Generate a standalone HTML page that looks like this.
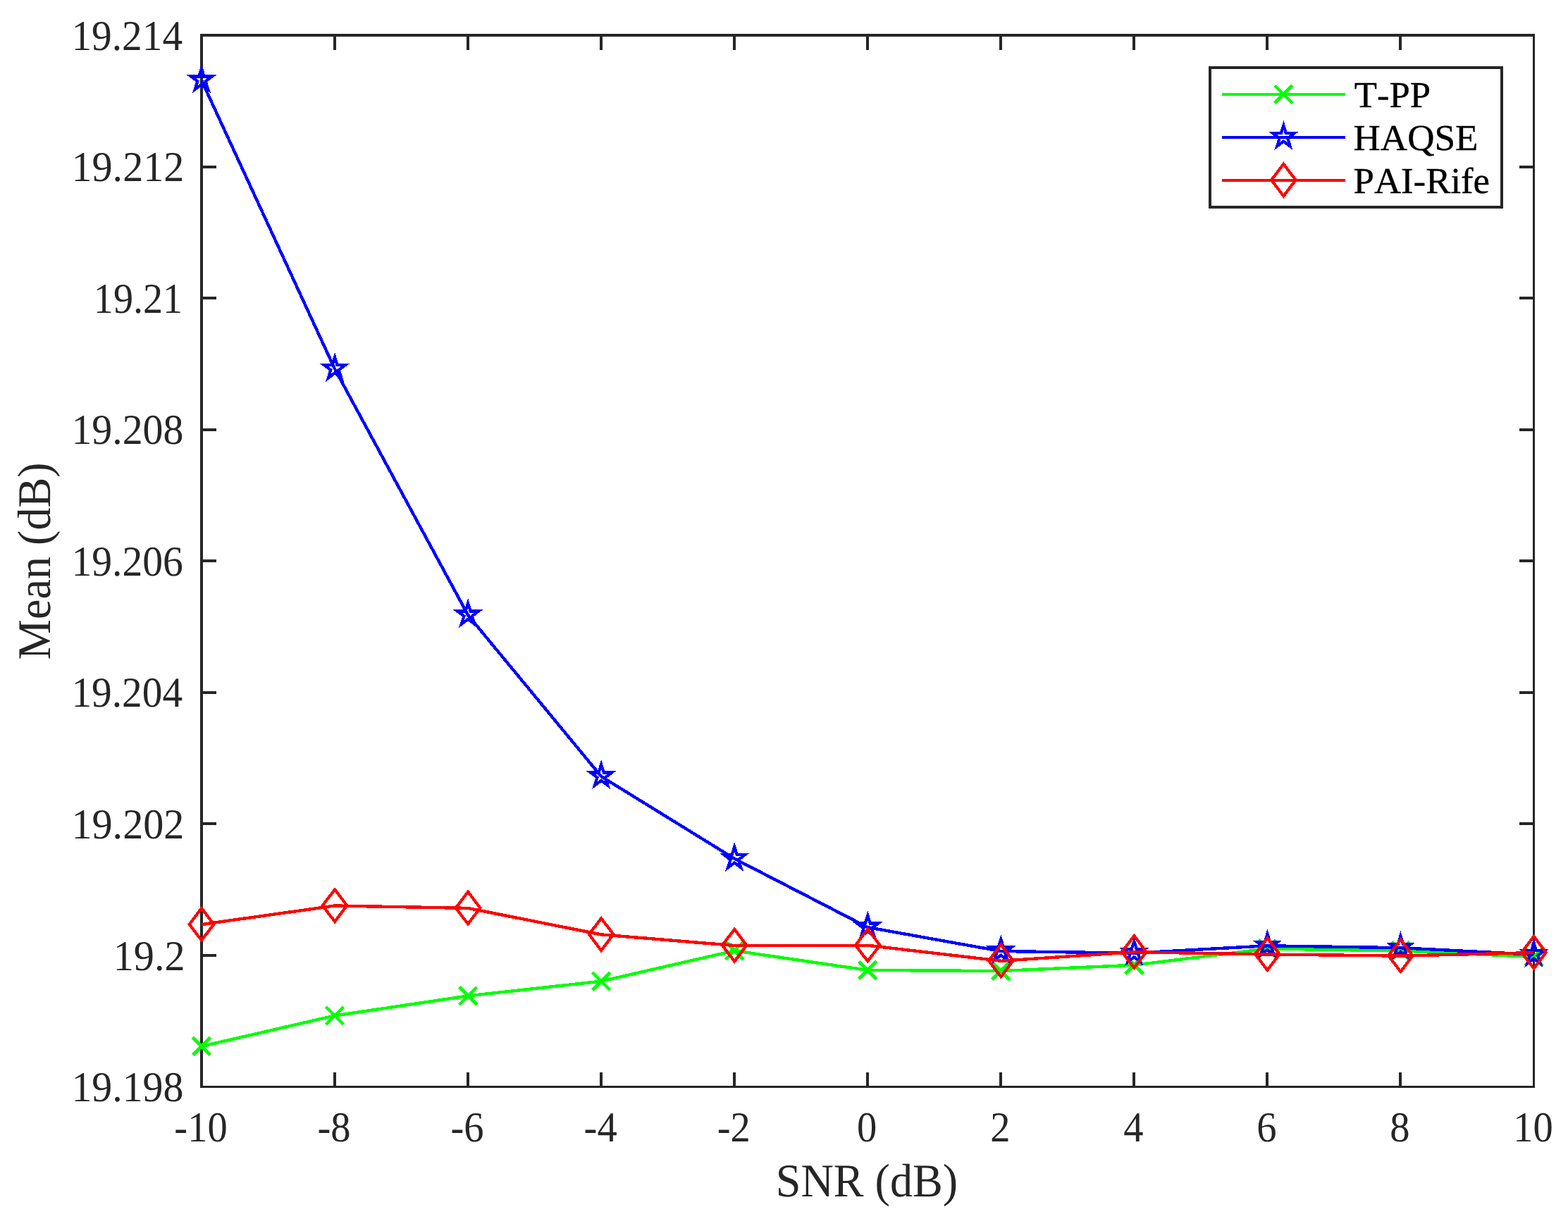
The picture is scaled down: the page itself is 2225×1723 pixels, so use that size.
<!DOCTYPE html>
<html lang="en"><head><meta charset="utf-8"><title>Mean (dB) versus SNR (dB)</title>
<style>
html,body{margin:0;padding:0;background:#fff;}
body{width:2225px;height:1723px;}
svg{display:block;}
text{font-family:"Liberation Serif",serif;font-kerning:none;font-variant-ligatures:none;text-rendering:geometricPrecision;white-space:pre;}
</style></head><body>
<svg width="2225" height="1723" viewBox="0 0 2225 1723" role="img" aria-label="Line chart of Mean (dB) versus SNR (dB) for T-PP, HAQSE and PAI-Rife">
<rect x="0" y="0" width="2225" height="1723" fill="#ffffff"/>
<g fill="#262626" stroke="none" shape-rendering="crispEdges">
<rect x="284" y="48" width="4" height="1496"/>
<rect x="284" y="48" width="1894" height="4"/>
<rect x="2175" y="48" width="3" height="1496"/>
<rect x="284" y="1541" width="1894" height="3"/>
<rect x="473" y="1521.6" width="4" height="20.9"/>
<rect x="473" y="50" width="4" height="20.9"/>
<rect x="662" y="1521.6" width="4" height="20.9"/>
<rect x="662" y="50" width="4" height="20.9"/>
<rect x="851" y="1521.6" width="4" height="20.9"/>
<rect x="851" y="50" width="4" height="20.9"/>
<rect x="1040" y="1521.6" width="4" height="20.9"/>
<rect x="1040" y="50" width="4" height="20.9"/>
<rect x="1229" y="1521.6" width="4" height="20.9"/>
<rect x="1229" y="50" width="4" height="20.9"/>
<rect x="1418" y="1521.6" width="4" height="20.9"/>
<rect x="1418" y="50" width="4" height="20.9"/>
<rect x="1607" y="1521.6" width="4" height="20.9"/>
<rect x="1607" y="50" width="4" height="20.9"/>
<rect x="1796" y="1521.6" width="4" height="20.9"/>
<rect x="1796" y="50" width="4" height="20.9"/>
<rect x="1985" y="1521.6" width="4" height="20.9"/>
<rect x="1985" y="50" width="4" height="20.9"/>
<rect x="286" y="1354" width="20.9" height="4"/>
<rect x="2155.6" y="1354" width="20.9" height="4"/>
<rect x="286" y="1167" width="20.9" height="4"/>
<rect x="2155.6" y="1167" width="20.9" height="4"/>
<rect x="286" y="981" width="20.9" height="4"/>
<rect x="2155.6" y="981" width="20.9" height="4"/>
<rect x="286" y="794" width="20.9" height="4"/>
<rect x="2155.6" y="794" width="20.9" height="4"/>
<rect x="286" y="608" width="20.9" height="4"/>
<rect x="2155.6" y="608" width="20.9" height="4"/>
<rect x="286" y="421" width="20.9" height="4"/>
<rect x="2155.6" y="421" width="20.9" height="4"/>
<rect x="286" y="235" width="20.9" height="4"/>
<rect x="2155.6" y="235" width="20.9" height="4"/>
</g>
<g font-size="60.5" fill="#262626">
<text transform="translate(285 1620) scale(0.935 1)" text-anchor="middle">-10</text>
<text transform="translate(474.05 1620) scale(0.935 1)" text-anchor="middle">-8</text>
<text transform="translate(663.1 1620) scale(0.935 1)" text-anchor="middle">-6</text>
<text transform="translate(852.15 1620) scale(0.935 1)" text-anchor="middle">-4</text>
<text transform="translate(1041.2 1620) scale(0.935 1)" text-anchor="middle">-2</text>
<text transform="translate(1230.25 1620) scale(0.935 1)" text-anchor="middle">0</text>
<text transform="translate(1419.3 1620) scale(0.935 1)" text-anchor="middle">2</text>
<text transform="translate(1608.35 1620) scale(0.935 1)" text-anchor="middle">4</text>
<text transform="translate(1797.4 1620) scale(0.935 1)" text-anchor="middle">6</text>
<text transform="translate(1986.45 1620) scale(0.935 1)" text-anchor="middle">8</text>
<text transform="translate(2175.5 1620) scale(0.935 1)" text-anchor="middle">10</text>
<text transform="translate(101.42 1563.1) scale(0.9556 1)">19.198</text>
<text transform="translate(160.68 1376.54) scale(0.9628 1)">19.2</text>
<text transform="translate(101.39 1189.97) scale(0.9618 1)">19.202</text>
<text transform="translate(101.46 1003.41) scale(0.9475 1)">19.204</text>
<text transform="translate(101.43 816.85) scale(0.9526 1)">19.206</text>
<text transform="translate(101.42 630.29) scale(0.9556 1)">19.208</text>
<text transform="translate(132.87 443.73) scale(0.9279 1)">19.21</text>
<text transform="translate(101.39 257.16) scale(0.9618 1)">19.212</text>
<text transform="translate(101.46 70.6) scale(0.9475 1)">19.214</text>
</g>
<g font-size="66.5" fill="#262626">
<text transform="translate(1229.95 1698.4) scale(0.965 1)" text-anchor="middle">SNR (dB)</text>
<text transform="translate(70.7 796.25) rotate(-90) scale(0.965 1)" text-anchor="middle">Mean (dB)</text>
</g>
<g fill="none" stroke-linejoin="miter" stroke-miterlimit="4" shape-rendering="crispEdges">
<polyline points="286,1485 475.05,1441.5 664.1,1413.4 853.15,1392.6 1042.2,1349.3 1231.25,1377 1420.3,1378 1609.35,1369.7 1798.4,1346.5 1987.45,1349.4 2176.5,1358" stroke="#00ff00" stroke-width="4.4" stroke-linejoin="round"/>
<path d="M273.5 1472.5L298.5 1497.5M273.5 1497.5L298.5 1472.5M462.55 1429L487.55 1454M462.55 1454L487.55 1429M651.6 1400.9L676.6 1425.9M651.6 1425.9L676.6 1400.9M840.65 1380.1L865.65 1405.1M840.65 1405.1L865.65 1380.1M1029.7 1336.8L1054.7 1361.8M1029.7 1361.8L1054.7 1336.8M1218.75 1364.5L1243.75 1389.5M1218.75 1389.5L1243.75 1364.5M1407.8 1365.5L1432.8 1390.5M1407.8 1390.5L1432.8 1365.5M1596.85 1357.2L1621.85 1382.2M1596.85 1382.2L1621.85 1357.2M1785.9 1334L1810.9 1359M1785.9 1359L1810.9 1334M1974.95 1336.9L1999.95 1361.9M1974.95 1361.9L1999.95 1336.9M2164 1345.5L2189 1370.5M2164 1370.5L2189 1345.5" stroke="#00ff00" stroke-width="4.8"/>
<polyline points="286,114 475.05,523.7 664.1,873 853.15,1102 1042.2,1218.7 1231.25,1316.1 1420.3,1350 1609.35,1352.7 1798.4,1342.3 1987.45,1345.2 2176.5,1354.8" stroke="#0000ff" stroke-width="4.4" stroke-linejoin="round"/>
<path d="M286 97.1L289.54 108.43L300.97 108.43L291.72 115.44L295.25 126.77L286 119.76L276.75 126.77L280.28 115.44L271.03 108.43L282.46 108.43ZM475.05 506.8L478.59 518.13L490.02 518.13L480.77 525.14L484.3 536.47L475.05 529.46L465.8 536.47L469.33 525.14L460.08 518.13L471.51 518.13ZM664.1 856.1L667.64 867.43L679.07 867.43L669.82 874.44L673.35 885.77L664.1 878.76L654.85 885.77L658.38 874.44L649.13 867.43L660.56 867.43ZM853.15 1085.1L856.69 1096.43L868.12 1096.43L858.87 1103.44L862.4 1114.77L853.15 1107.76L843.9 1114.77L847.43 1103.44L838.18 1096.43L849.61 1096.43ZM1042.2 1201.8L1045.74 1213.13L1057.17 1213.13L1047.92 1220.14L1051.45 1231.47L1042.2 1224.46L1032.95 1231.47L1036.48 1220.14L1027.23 1213.13L1038.66 1213.13ZM1231.25 1299.2L1234.79 1310.53L1246.22 1310.53L1236.97 1317.54L1240.5 1328.87L1231.25 1321.86L1222 1328.87L1225.53 1317.54L1216.28 1310.53L1227.71 1310.53ZM1420.3 1333.1L1423.84 1344.43L1435.27 1344.43L1426.02 1351.44L1429.55 1362.77L1420.3 1355.76L1411.05 1362.77L1414.58 1351.44L1405.33 1344.43L1416.76 1344.43ZM1609.35 1335.8L1612.89 1347.13L1624.32 1347.13L1615.07 1354.14L1618.6 1365.47L1609.35 1358.46L1600.1 1365.47L1603.63 1354.14L1594.38 1347.13L1605.81 1347.13ZM1798.4 1325.4L1801.94 1336.73L1813.37 1336.73L1804.12 1343.74L1807.65 1355.07L1798.4 1348.06L1789.15 1355.07L1792.68 1343.74L1783.43 1336.73L1794.86 1336.73ZM1987.45 1328.3L1990.99 1339.63L2002.42 1339.63L1993.17 1346.64L1996.7 1357.97L1987.45 1350.96L1978.2 1357.97L1981.73 1346.64L1972.48 1339.63L1983.91 1339.63ZM2176.5 1337.9L2180.04 1349.23L2191.47 1349.23L2182.22 1356.24L2185.75 1367.57L2176.5 1360.56L2167.25 1367.57L2170.78 1356.24L2161.53 1349.23L2172.96 1349.23Z" stroke="#0000ff" stroke-width="4.2"/>
<polyline points="286,1312.1 475.05,1285.5 664.1,1288.9 853.15,1326.4 1042.2,1342 1231.25,1341.75 1420.3,1363.8 1609.35,1351.2 1798.4,1354.5 1987.45,1356.6 2176.5,1352.1" stroke="#ff0000" stroke-width="4.4" stroke-linejoin="round"/>
<path d="M286 1289L303.3 1311.8L286 1334.6L268.7 1311.8ZM475.05 1262.4L492.35 1285.2L475.05 1308L457.75 1285.2ZM664.1 1265.8L681.4 1288.6L664.1 1311.4L646.8 1288.6ZM853.15 1303.3L870.45 1326.1L853.15 1348.9L835.85 1326.1ZM1042.2 1318.9L1059.5 1341.7L1042.2 1364.5L1024.9 1341.7ZM1231.25 1318.65L1248.55 1341.45L1231.25 1364.25L1213.95 1341.45ZM1420.3 1340.7L1437.6 1363.5L1420.3 1386.3L1403 1363.5ZM1609.35 1328.1L1626.65 1350.9L1609.35 1373.7L1592.05 1350.9ZM1798.4 1331.4L1815.7 1354.2L1798.4 1377L1781.1 1354.2ZM1987.45 1333.5L2004.75 1356.3L1987.45 1379.1L1970.15 1356.3ZM2176.5 1329L2193.8 1351.8L2176.5 1374.6L2159.2 1351.8Z" stroke="#ff0000" stroke-width="4.2"/>
</g>
<rect x="1717" y="95.8" width="414.2" height="198.1" fill="#ffffff" stroke="#262626" stroke-width="3.8" shape-rendering="crispEdges"/>
<g fill="none" stroke-linejoin="miter" stroke-miterlimit="4" shape-rendering="crispEdges">
<path d="M1734 134H1909" stroke="#00ff00" stroke-width="4.4"/>
<path d="M1808.9 121.5L1833.9 146.5M1808.9 146.5L1833.9 121.5" stroke="#00ff00" stroke-width="4.8"/>
<path d="M1734 194.8H1909" stroke="#0000ff" stroke-width="4.4"/>
<path d="M1821.4 177.9L1824.94 189.23L1836.37 189.23L1827.12 196.24L1830.65 207.57L1821.4 200.56L1812.15 207.57L1815.68 196.24L1806.43 189.23L1817.86 189.23Z" stroke="#0000ff" stroke-width="4.2"/>
<path d="M1734 255.8H1909" stroke="#ff0000" stroke-width="4.4"/>
<path d="M1821.4 232.7L1838.7 255.5L1821.4 278.3L1804.1 255.5Z" stroke="#ff0000" stroke-width="4.2"/>
</g>
<g font-size="52" fill="#000000" stroke="#000000" stroke-width="0.35">
<text transform="translate(1921.75 152.1) scale(1.0125 1)">T-PP</text>
<text transform="translate(1920.57 212.9) scale(1.0198 1)">HAQSE</text>
<text transform="translate(1920.58 273.7) scale(1.0148 1)">PAI-Rife</text>
</g>
</svg>
</body></html>
